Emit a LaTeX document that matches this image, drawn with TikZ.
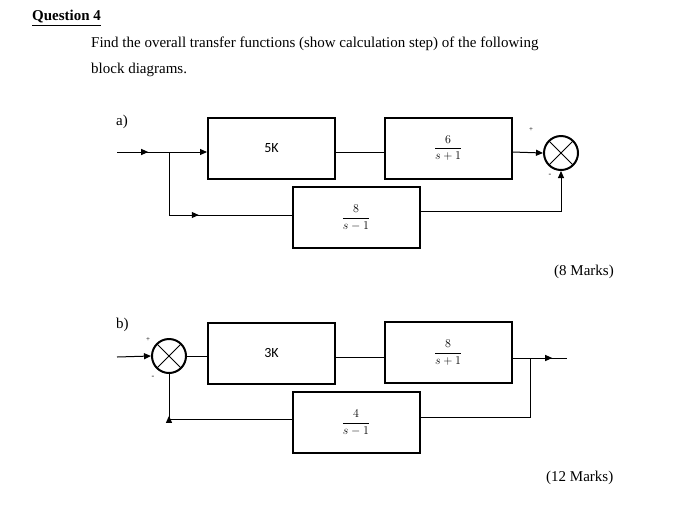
\documentclass[tikz,border=0pt]{standalone}
\usepackage{amsmath}
\usepackage{fontspec}
\setmainfont{Liberation Serif}
\newfontfamily\calib{Carlito}
\usetikzlibrary{arrows.meta,decorations.markings}
\begin{document}
\begin{tikzpicture}[x=1pt,y=-1pt,
  blk/.style={draw,line width=2pt,minimum width=127pt,minimum height=61pt,inner sep=0pt},
  kbox/.style={blk,font=\calib\fontsize{14}{16}\selectfont},
  sumj/.style={draw,circle,line width=2pt,minimum size=34pt,inner sep=0pt,path picture={
    \draw[line width=1pt] (path picture bounding box.south west)--(path picture bounding box.north east)
    (path picture bounding box.north west)--(path picture bounding box.south east);}},
  ln/.style={line width=1pt},
  arr/.style={ln,-{Triangle[length=7pt,width=6pt]}},
  mid/.style={decoration={markings,mark=at position #1 with {\arrow{Triangle[length=7pt,width=6pt]}}},postaction={decorate}},
  txt/.style={font=\fontsize{15}{18}\selectfont,anchor=west,inner sep=0pt}]
\useasboundingbox (0,0) rectangle (700,531);
\node[txt,font=\bfseries\fontsize{15}{18}\selectfont] (q) at (32,18) {\underline{Question 4}};
\node[txt] (l1) at (91,44) {Find the overall transfer functions (show calculation step) of the following};
\node[txt] (l2) at (91,70) {block diagrams.};
% a)
\node[txt] (la) at (116,122) {a)};
\node[kbox] (a1) at (271.5,148) {5K};
\node[blk] (a2) at (448,148) {\large$\dfrac{6}{s+1}$};
\node[sumj] (as) at (561,153) {};
\node[blk] (a3) at (356,217.5) {\large$\dfrac{8}{s-1}$};
\coordinate (ain) at (117,152);
\coordinate (abr) at (169,152);
\draw[ln,mid=0.6] (ain) -- (abr);
\draw[arr] (abr) -- (a1.west|-abr);
\draw[ln] (a1.east|-abr) -- (a2.west|-abr);
\draw[arr] (a2.east|-abr) -- (as.west);
\draw[ln,mid=0.5] (abr) -- (169,215) -- (a3.west|-0,215);
\draw[arr] (a3.east|-0,211) -- (as.south|-0,211) -- (as.south);
\node[font=\scriptsize] (ap) at (531,130) {+};
\node[font=\footnotesize] (am) at (550,175) {-};
\node[txt] (ma) at (554,272) {(8 Marks)};
% b)
\node[txt] (lb) at (116,325) {b)};
\node[sumj] (bs) at (169,356) {};
\node[kbox] (b1) at (271.5,353) {3K};
\node[blk] (b2) at (448,352.5) {\large$\dfrac{8}{s+1}$};
\node[blk] (b3) at (356,422.5) {\large$\dfrac{4}{s-1}$};
\coordinate (bin) at (117,357);
\coordinate (bbr) at (530,358);
\coordinate (bout) at (567,358);
\draw[arr] (bin) -- (bs.west);
\draw[ln] (bs.east) -- (b1.west|-bs.east);
\draw[ln] (b1.east|-0,357) -- (b2.west|-0,357);
\draw[ln] (b2.east|-bbr) -- (bbr);
\draw[ln,mid=0.6] (bbr) -- (bout);
\draw[ln] (bbr) -- (530,417) -- (b3.east|-0,417);
\draw[ln,mid=0.75] (b3.west|-0,419) -- (169,419) -- (bs.south);
\node[font=\scriptsize] (bp) at (148,340) {+};
\node[font=\footnotesize] (bm) at (153,377) {-};
\node[txt] (mb) at (546,478) {(12 Marks)};
\end{tikzpicture}
\end{document}
